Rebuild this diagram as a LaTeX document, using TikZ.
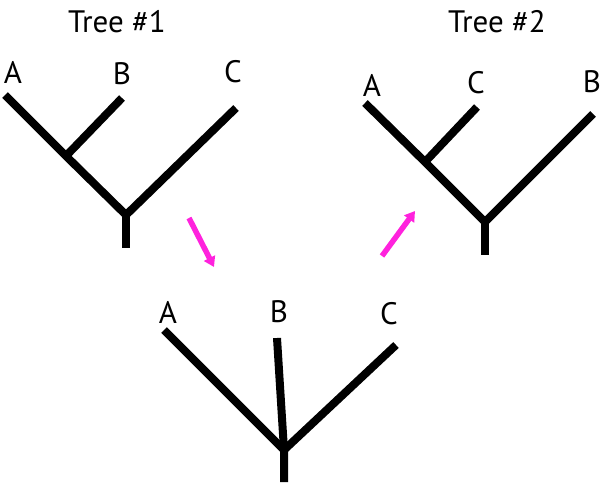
\documentclass[tikz,border=0pt]{standalone}
\usepackage{fontspec}
\setmainfont{PT Sans}
\usetikzlibrary{arrows.meta}
\definecolor{pinkarrow}{HTML}{FF22DD}
\tikzset{branch/.style={line width=8pt,line cap=butt,line join=miter},
 lbl/.style={font=\fontsize{31}{34}\selectfont,inner sep=0pt},
 parrow/.style={pinkarrow,line width=5.5pt,-{Triangle[length=10pt,width=12pt]}}}
\begin{document}
\begin{tikzpicture}[x=1pt,y=-1pt]
\useasboundingbox (0,0) rectangle (603,485);
% Tree 1
\coordinate (a1) at (5,95); \coordinate (b1) at (122,98); \coordinate (c1) at (236,108);
\coordinate (j1) at (66,156); \coordinate (r1) at (126,215); \coordinate (e1) at (126,248);
\draw[branch] (a1) -- (j1) -- (r1) -- (c1); \draw[branch] (b1) -- (j1); \draw[branch] (r1) -- (e1);
\node[lbl] (t1) at (117,22) {Tree \#1};
\node[lbl] (la1) at (13,72) {A}; \node[lbl] (lb1) at (122,74) {B}; \node[lbl] (lc1) at (233,72) {C};
% Tree 2
\coordinate (a2) at (365,103); \coordinate (c2) at (477,107); \coordinate (b2) at (593,114);
\coordinate (j2) at (425,162); \coordinate (r2) at (485,222); \coordinate (e2) at (485,255);
\draw[branch] (a2) -- (j2) -- (r2) -- (b2); \draw[branch] (c2) -- (j2); \draw[branch] (r2) -- (e2);
\node[lbl] (t2) at (497,22) {Tree \#2};
\node[lbl] (la2) at (372,85) {A}; \node[lbl] (lc2) at (476,83) {C}; \node[lbl] (lb2) at (592,82) {B};
% Tree 3
\coordinate (a3) at (164,330); \coordinate (b3) at (277,338); \coordinate (c3) at (396,345);
\coordinate (r3) at (284,450); \coordinate (e3) at (284,482);
\draw[branch] (a3) -- (r3) -- (c3); \draw[branch] (b3) -- (r3) -- (e3);
\node[lbl] (la3) at (168,312) {A}; \node[lbl] (lb3) at (279,312) {B}; \node[lbl] (lc3) at (389,314) {C};
% arrows
\coordinate (p1) at (189,218); \coordinate (q1) at (214,267);
\coordinate (p2) at (382,256); \coordinate (q2) at (415,211);
\draw[parrow] (p1) -- (q1);
\draw[parrow] (p2) -- (q2);
\end{tikzpicture}
\end{document}
